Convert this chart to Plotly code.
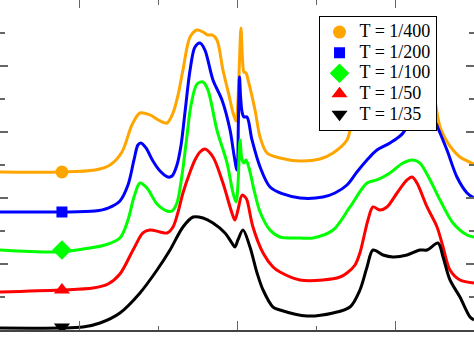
import plotly.graph_objects as go

# ---------------- data ----------------
labels = ["T = 1/400", "T = 1/200", "T = 1/100", "T = 1/50", "T = 1/35"]
colors = ["#FFA500", "#0000FF", "#00FF00", "#FF0000", "#000000"]
symbols = ["circle", "square", "diamond", "triangle-up", "triangle-down"]
marker_sizes = [13, 11, 15, 14, 14]

x_400 = [-1.5, -1.120, -0.899, -0.804, -0.728, -0.665, -0.614, -0.551, -0.487, -0.443,
         -0.405, -0.373, -0.342, -0.297, -0.253, -0.215, -0.184, -0.158, -0.127, -0.089,
         -0.051, -0.025, -0.006, 0.006, 0.016, 0.025, 0.035, 0.044, 0.057, 0.070,
         0.114, 0.146, 0.190, 0.272, 0.399, 0.525, 0.608, 0.696, 0.728, 0.778,
         0.873, 1.0, 1.127, 1.209, 1.253, 1.285, 1.323, 1.367, 1.411, 1.5]
y_400 = [2.394, 2.394, 2.424, 2.500, 2.697, 3.106, 3.288, 3.258, 3.167, 3.136,
         3.288, 3.561, 3.939, 4.439, 4.545, 4.515, 4.470, 4.470, 4.394, 3.939,
         3.561, 3.288, 3.167, 3.485, 4.091, 4.576, 4.091, 3.909, 3.894, 3.788,
         3.333, 2.924, 2.682, 2.606, 2.561, 2.591, 2.682, 2.879, 3.182, 3.636,
         4.091, 4.318, 4.394, 4.167, 3.485, 3.076, 2.879, 2.727, 2.621, 2.515]

x_200 = [-1.5, -1.120, -0.899, -0.816, -0.741, -0.690, -0.652, -0.627, -0.608, -0.576,
         -0.532, -0.487, -0.437, -0.411, -0.380, -0.354, -0.329, -0.297, -0.266, -0.234,
         -0.203, -0.152, -0.095, -0.044, -0.019, 0.0, 0.009, 0.016, 0.022, 0.032,
         0.044, 0.063, 0.095, 0.146, 0.209, 0.291, 0.399, 0.544, 0.620, 0.696,
         0.759, 0.823, 0.886, 0.968, 1.051, 1.108, 1.158, 1.209, 1.247, 1.272,
         1.329, 1.392, 1.456, 1.5]
y_200 = [1.788, 1.788, 1.803, 1.848, 1.955, 2.197, 2.576, 2.803, 2.833, 2.758,
         2.561, 2.409, 2.318, 2.333, 2.500, 2.803, 3.303, 3.939, 4.288, 4.348,
         4.242, 3.788, 3.485, 3.030, 2.652, 2.424, 3.182, 3.833, 3.561, 3.303,
         3.227, 3.227, 2.879, 2.470, 2.167, 2.061, 2.000, 2.015, 2.076, 2.197,
         2.394, 2.576, 2.727, 2.833, 2.985, 3.288, 3.561, 3.561, 3.212, 3.061,
         2.727, 2.318, 2.076, 2.000]

x_100 = [-1.5, -1.139, -0.975, -0.835, -0.741, -0.690, -0.652, -0.614, -0.570, -0.506,
         -0.443, -0.411, -0.380, -0.348, -0.316, -0.291, -0.253, -0.215, -0.184, -0.127,
         -0.063, -0.025, -0.006, 0.006, 0.019, 0.032, 0.044, 0.057, 0.076, 0.108,
         0.146, 0.209, 0.272, 0.399, 0.481, 0.608, 0.715, 0.823, 0.886, 0.968,
         1.051, 1.114, 1.158, 1.222, 1.285, 1.367, 1.456, 1.5]
y_100 = [1.212, 1.182, 1.227, 1.288, 1.394, 1.667, 2.015, 2.227, 2.152, 1.909,
         1.803, 1.803, 1.924, 2.348, 2.955, 3.409, 3.727, 3.758, 3.636, 3.030,
         2.530, 2.076, 1.939, 2.197, 2.879, 2.576, 2.530, 2.576, 2.455, 2.121,
         1.788, 1.515, 1.409, 1.394, 1.394, 1.515, 1.864, 2.227, 2.273, 2.379,
         2.530, 2.576, 2.530, 2.273, 1.970, 1.621, 1.439, 1.409]

x_50 = [-1.5, -1.120, -0.911, -0.816, -0.741, -0.658, -0.595, -0.551, -0.487, -0.443,
        -0.405, -0.373, -0.342, -0.297, -0.266, -0.234, -0.203, -0.152, -0.089, -0.032,
        -0.013, 0.006, 0.032, 0.051, 0.063, 0.101, 0.165, 0.228, 0.272, 0.399,
        0.544, 0.652, 0.696, 0.747, 0.778, 0.810, 0.829, 0.861, 0.905, 0.949,
        1.013, 1.076, 1.108, 1.139, 1.203, 1.266, 1.304, 1.348, 1.411, 1.5]
y_50 = [0.576, 0.606, 0.636, 0.697, 0.848, 1.212, 1.470, 1.515, 1.485, 1.470,
        1.561, 1.788, 2.076, 2.394, 2.576, 2.697, 2.742, 2.621, 2.227, 1.773,
        1.667, 1.818, 2.045, 2.015, 1.970, 1.561, 1.167, 0.955, 0.879, 0.758,
        0.758, 0.803, 0.864, 0.985, 1.167, 1.485, 1.667, 1.864, 1.818, 1.864,
        2.076, 2.273, 2.318, 2.227, 1.864, 1.561, 1.258, 0.909, 0.758, 0.712]

x_35 = [-1.5, -1.120, -0.975, -0.867, -0.741, -0.614, -0.506, -0.424, -0.342, -0.278,
        -0.215, -0.152, -0.076, -0.032, -0.013, 0.006, 0.038, 0.082, 0.127, 0.165,
        0.228, 0.272, 0.443, 0.608, 0.715, 0.778, 0.823, 0.861, 0.924, 0.987,
        1.076, 1.158, 1.203, 1.272, 1.304, 1.348, 1.411, 1.475, 1.5]
y_35 = [0.030, 0.030, 0.045, 0.106, 0.258, 0.561, 0.909, 1.212, 1.561, 1.712,
        1.697, 1.621, 1.470, 1.318, 1.258, 1.364, 1.515, 1.258, 0.864, 0.606,
        0.348, 0.303, 0.212, 0.258, 0.348, 0.606, 0.955, 1.212, 1.136, 1.106,
        1.136, 1.212, 1.212, 1.318, 1.106, 0.758, 0.500, 0.197, 0.152]

marker_x = -1.108
marker_y = [2.394, 1.788, 1.212, 0.606, 0.045]

xs = [x_400, x_200, x_100, x_50, x_35]
ys = [y_400, y_200, y_100, y_50, y_35]

x_ticks = [-1, 0, 1]

# ---------------- figure ----------------
fig = go.Figure()
for i in range(5):
    fig.add_trace(go.Scatter(
        x=xs[i], y=ys[i], mode="lines",
        line=dict(color=colors[i], width=3, shape="spline", smoothing=0.9),
        showlegend=False, legendgroup=labels[i], hoverinfo="skip"))
for i in range(5):
    fig.add_trace(go.Scatter(
        x=[marker_x], y=[marker_y[i]], mode="markers",
        name='<span style="font-size:18px">' + labels[i] + "</span>",
        legendgroup=labels[i],
        marker=dict(symbol=symbols[i], size=marker_sizes[i], color=colors[i],
                    line=dict(width=0))))

# invisible helper trace on the top axis so its ticks are drawn
fig.add_trace(go.Scatter(x=[marker_x], y=[marker_y[0]], xaxis="x2", mode="markers",
                         marker=dict(opacity=0), showlegend=False, hoverinfo="skip"))

tick_col = "#666666"
fig.update_layout(
    width=474, height=337,
    margin=dict(l=0, r=0, t=0, b=7, pad=0),
    paper_bgcolor="white", plot_bgcolor="white",
    template="none",
    font=dict(family="Liberation Serif", color="black"),
    xaxis=dict(range=[-1.5, 1.5], showgrid=False, zeroline=False,
               showline=True, linecolor="#444444", linewidth=2,
               ticks="inside", ticklen=9, tickwidth=1, tickcolor=tick_col,
               tickvals=x_ticks, showticklabels=False, automargin=False,
               minor=dict(dtick=0.5, tick0=0, ticks="inside", ticklen=4,
                          tickcolor=tick_col, tickwidth=1, showgrid=False)),
    xaxis2=dict(range=[-1.5, 1.5], overlaying="x", side="top", showgrid=False,
                zeroline=False, showline=False, ticks="inside", ticklen=8,
                tickwidth=1, tickcolor=tick_col, tickvals=x_ticks,
                showticklabels=False, automargin=False,
                minor=dict(dtick=0.5, tick0=0, ticks="inside", ticklen=5,
                           tickcolor=tick_col, tickwidth=1, showgrid=False)),
    yaxis=dict(range=[0, 5], showgrid=False, zeroline=False, showline=False,
               ticks="inside", ticklen=8, tickwidth=2, tickcolor=tick_col,
               dtick=1, tick0=0, mirror="ticks", showticklabels=False,
               automargin=False,
               minor=dict(dtick=0.5, tick0=0, ticks="inside", ticklen=5,
                          tickcolor=tick_col, tickwidth=2, showgrid=False)),
    legend=dict(x=0.672, y=0.952, xanchor="left", yanchor="top",
                bgcolor="white", bordercolor="black", borderwidth=1,
                font=dict(family="Liberation Serif", size=13.5, color="black"),
                itemsizing="trace", tracegroupgap=0),
    showlegend=True,
)

fig.write_html("out.html")
